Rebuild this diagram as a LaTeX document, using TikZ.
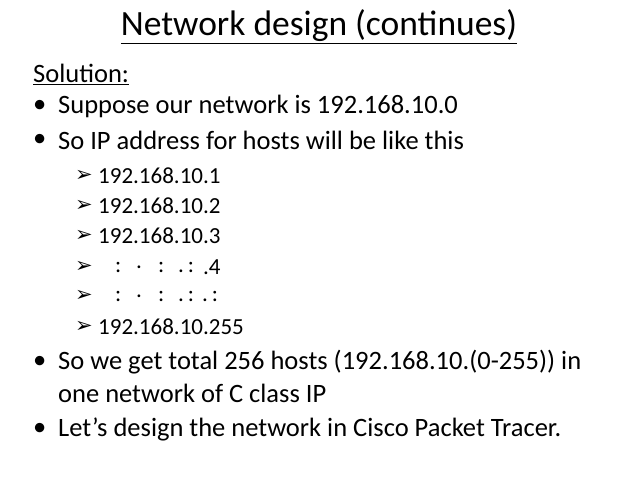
\documentclass[tikz,border=0pt]{standalone}
\usepackage{fontspec}
\setmainfont{Carlito}
\newfontfamily\symf{DejaVu Sans}
\begin{document}
\begin{tikzpicture}[x=1pt,y=-1pt,
  body/.style={anchor=west,inner sep=0pt,font=\fontsize{26.5}{30}\selectfont},
  sub/.style={anchor=west,inner sep=0pt,font=\fontsize{23}{26}\selectfont},
  arr/.style={anchor=west,inner sep=0pt,font=\symf\bfseries\fontsize{21}{24}\selectfont}]
\useasboundingbox (0,0) rectangle (638,478);
\node[inner sep=0pt,font=\fontsize{35.5}{38}\selectfont] (title) at (319,27) {\underline{Network design (continues)}};
\node[body] (sol) at (33,74) {\underline{Solution:}};
\node[body] (p1) at (33,106) {•}; \node[body] (b1) at (58,106) {Suppose our network is 192.168.10.0};
\node[body] (p2) at (33,140) {•}; \node[body] (b2) at (58,140) {So IP address for hosts will be like this};
\node[arr] (a1) at (75,176) {➢}; \node[sub] (s1) at (98,176) {192.168.10.1};
\node[arr] (a2) at (75,206) {➢}; \node[sub] (s2) at (98,206) {192.168.10.2};
\node[arr] (a3) at (75,236) {➢}; \node[sub] (s3) at (98,236) {192.168.10.3};
\node[arr] (a4) at (75,267) {➢};
\node[sub] (d1) at (115,267) {:}; \node[sub] (d2) at (136,267) {.}; \node[sub] (d3) at (158,267) {:};
\node[sub] (d4) at (178,267) {.\,:}; \node[sub] (d5) at (203,267) {.4};
\node[arr] (a5) at (75,296) {➢};
\node[sub] (e1) at (115,296) {:}; \node[sub] (e2) at (136,296) {.}; \node[sub] (e3) at (158,296) {:};
\node[sub] (e4) at (178,296) {.\,:}; \node[sub] (e5) at (202,296) {.\,:};
\node[arr] (a6) at (75,327) {➢}; \node[sub] (s6) at (98,327) {192.168.10.255};
\node[body] (p3) at (33,362) {•}; \node[body] (b3) at (58,362) {So we get total 256 hosts (192.168.10.(0-255)) in};
\node[body] (b3b) at (58,393) {one network of C class IP};
\node[body] (p4) at (33,429) {•}; \node[body] (b4) at (58,429) {Let’s design the network in Cisco Packet Tracer.};
\end{tikzpicture}
\end{document}
